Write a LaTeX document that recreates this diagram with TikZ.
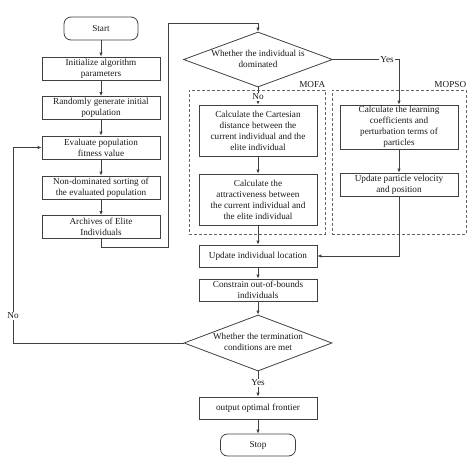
\documentclass[tikz,border=0pt]{standalone}
\usepackage{fontspec}
\setmainfont{Liberation Serif}
\usetikzlibrary{shapes.geometric,arrows.meta}
\newcommand\dtext[1]{\raisebox{-2.4pt}[0pt][0pt]{\begin{tabular}{@{}c@{}}#1\end{tabular}}}
\begin{document}
\begin{tikzpicture}[x=1pt,y=-1pt,
  txt/.style={font=\fontsize{9.2}{11}\selectfont, text=black!90},
  line/.style={draw=black!75, line width=0.8pt},
  arr/.style={line, -{Latex[length=4pt,width=3.5pt]}},
  box/.style={txt, draw=black!75, line width=0.8pt, rectangle, align=center, inner sep=0pt},
  term/.style={box, rounded corners=7pt},
  dec/.style={txt, draw=black!75, line width=0.8pt, diamond, shape aspect=2.7, inner sep=0pt},
  lab/.style={txt, fill=white, inner sep=1pt},
  grp/.style={draw=black!60, dash pattern=on 3pt off 2pt, line width=0.7pt, rectangle, inner sep=0pt}
]
\useasboundingbox (0,0) rectangle (474,474);
% groups
\node[grp, minimum width=136pt, minimum height=144pt] (gA) at (257,162) {};
\node[grp, minimum width=134pt, minimum height=144pt] (gB) at (399,162) {};
\node[txt, anchor=south east, inner sep=0pt] (lA) at ([yshift=2pt]gA.north east) {MOFA};
\node[txt, anchor=south east, inner sep=0pt] (lB) at ([yshift=2pt]gB.north east) {MOPSO};
% left column
\node[term, minimum width=74pt, minimum height=23pt] (start) at (101,28.5) {Start};
\node[box, minimum width=118pt, minimum height=23pt] (init) at (101,68.5) {Initialize algorithm\\parameters};
\node[box, minimum width=118pt, minimum height=23pt] (rand) at (101,108) {Randomly generate initial\\population};
\node[box, minimum width=118pt, minimum height=23pt] (eval) at (101,147.5) {Evaluate population\\fitness value};
\node[box, minimum width=118pt, minimum height=23pt] (sort) at (101,187.5) {Non-dominated sorting of\\the evaluated population};
\node[box, minimum width=118pt, minimum height=23pt] (arch) at (101,227) {Archives of Elite\\Individuals};
% right part
\node[dec, minimum width=149pt, minimum height=55pt] (d1) at (258,59.5) {\dtext{Whether the individual is\\dominated}};
\node[box, minimum width=118pt, minimum height=51pt] (cart) at (258,130.5) {Calculate the Cartesian\\distance between the\\current individual and the\\elite individual};
\node[box, minimum width=118pt, minimum height=51pt] (attr) at (258,199.5) {Calculate the\\attractiveness between\\the current individual and\\the elite individual};
\node[box, minimum width=118pt, minimum height=44pt] (m1) at (399,127) {Calculate the learning\\coefficients and\\perturbation terms of\\particles};
\node[box, minimum width=118pt, minimum height=23pt] (m2) at (399,184.5) {Update particle velocity\\and position};
\node[box, minimum width=118pt, minimum height=22pt] (upd) at (258,256) {Update individual location};
\node[box, minimum width=118pt, minimum height=22pt] (con) at (258,290) {Constrain out-of-bounds\\individuals};
\node[dec, minimum width=148pt, minimum height=56pt] (d2) at (258,343) {\dtext{Whether the termination\\conditions are met}};
\node[box, minimum width=118pt, minimum height=22pt] (out) at (258,408) {output optimal frontier};
\node[term, minimum width=75pt, minimum height=22pt] (stop) at (258,445) {Stop};
% connectors
\draw[arr] (start) -- (init);
\draw[arr] (init) -- (rand);
\draw[arr] (rand) -- (eval);
\draw[arr] (eval) -- (sort);
\draw[arr] (sort) -- (arch);
\coordinate (a1) at (168,247);
\coordinate (a2) at (258,23);
\draw[arr] (arch.south) |- (a1) |- (a2) -- (d1.north);
\draw[arr] (d1.south) -- (cart.north);
\node[lab] (no1) at (258,97) {No};
\draw[arr] (d1.east) -| (m1.north);
\node[lab] (yes1) at (387,60) {Yes};
\draw[arr] (cart) -- (attr);
\draw[arr] (m1) -- (m2);
\draw[arr] (attr) -- (upd);
\draw[arr] (m2.south) |- (upd.east);
\draw[arr] (upd) -- (con);
\draw[arr] (con) -- (d2.north);
\draw[arr] (d2.south) -- (out.north);
\node[lab] (yes2) at (258,383) {Yes};
\draw[arr] (out) -- (stop);
\coordinate (b1) at (13,343);
\draw[arr] (d2.west) -- (b1) |- (eval.west);
\node[lab] (no2) at (13,316) {No};
\end{tikzpicture}
\end{document}
